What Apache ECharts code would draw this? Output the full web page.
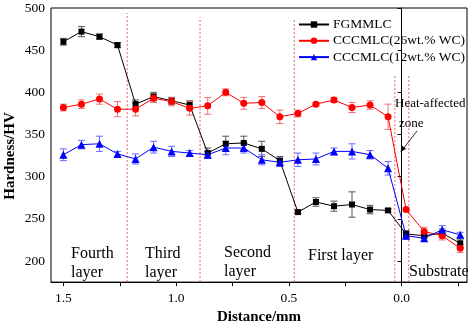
<!DOCTYPE html>
<html>
<head>
<meta charset="utf-8">
<script src="https://cdn.jsdelivr.net/npm/echarts@6/dist/echarts.min.js"></script>
<style>html,body{margin:0;padding:0;background:#fff}#c{width:474px;height:330px}</style>
</head>
<body>
<div id="c"></div>
<script>
const distance = [1.5, 1.42, 1.34, 1.26, 1.18, 1.10, 1.02, 0.94, 0.86, 0.78, 0.70, 0.62, 0.54, 0.46, 0.38, 0.30, 0.22, 0.14, 0.06, -0.02, -0.10, -0.18, -0.26];
const fgmmlc = [460, 472, 466, 456, 386, 395, 390, 385, 328, 339, 340, 333, 319, 258, 270, 265, 267, 261, 260, 232, 230, 233, 221];
const fgmmlcErr = [4, 6, 3, 3, 5, 5, 4, 5, 6, 9, 8, 9, 5, 2, 5, 6, 15, 5, 2, 4, 3, 5, 5];
const ccc26 = [382, 386, 392, 380, 380, 393, 389, 381, 384, 400, 387, 388, 371, 375, 386, 391, 382, 385, 371, 261, 235, 230, 215];
const ccc26Err = [4, 5, 6, 9, 8, 5, 5, 8, 10, 4, 7, 7, 8, 4, 2, 3, 6, 5, 15, 2, 5, 5, 5];
const ccc12 = [326, 338, 339, 327, 321, 335, 330, 328, 326, 334, 334, 320, 317, 320, 321, 330, 330, 326, 310, 230, 227, 237, 231];
const ccc12Err = [7, 5, 9, 3, 6, 7, 6, 3, 4, 8, 6, 6, 5, 8, 7, 4, 9, 5, 8, 4, 4, 5, 3];
const seriesNames = ['FGMMLC', 'CCCMLC(26wt.% WC)', 'CCCMLC(12wt.% WC)'];
const xLabels = [1.5, 1.0, 0.5, 0.0];
const xTicks = [1.5, 1.25, 1.0, 0.75, 0.5, 0.25, 0.0, -0.25];
const yLabels = [200, 250, 300, 350, 400, 450, 500];
// boundary lines: [distance, top hardness]
const dividers = [[1.217, 494], [0.894, 489], [0.476, 486], [0.03, 421], [-0.032, 421]];

const FONT = "'Liberation Serif','Times New Roman',serif";
const chart = echarts.init(document.getElementById('c'), null, {renderer: 'canvas'});

function errSeries(vals, errs, color) {
  return {
    type: 'custom',
    silent: true,
    z: 1,
    data: distance.map((d, i) => [d, vals[i] - errs[i], vals[i] + errs[i]]),
    encode: {x: 0, y: [1, 2]},
    renderItem: function (params, api) {
      const x = api.value(0);
      const p1 = api.coord([x, api.value(1)]);
      const p2 = api.coord([x, api.value(2)]);
      const w = 3.5;
      const st = {stroke: color, lineWidth: 1};
      return {type: 'group', children: [
        {type: 'line', shape: {x1: p1[0], y1: p1[1], x2: p2[0], y2: p2[1]}, style: st},
        {type: 'line', shape: {x1: p1[0] - w, y1: p1[1], x2: p1[0] + w, y2: p1[1]}, style: st},
        {type: 'line', shape: {x1: p2[0] - w, y1: p2[1], x2: p2[0] + w, y2: p2[1]}, style: st}
      ]};
    }
  };
}

function lineSeries(name, vals, color, symbol, size) {
  return {
    name: name, type: 'line', z: 3,
    data: distance.map((d, i) => [d, vals[i]]),
    symbol: symbol, symbolSize: size,
    lineStyle: {color: color, width: 1},
    itemStyle: {color: color},
    emphasis: {disabled: true}
  };
}

const txt = (x, y, text, size, lh) => ({
  type: 'text', x: x, y: y, z: 10,
  style: {text: text, font: size + 'px ' + FONT, fill: '#000', lineHeight: lh, textVerticalAlign: 'top'}
});

chart.setOption({
  animation: false,
  backgroundColor: '#fff',
  grid: {left: 51, right: 7, top: 8, bottom: 44, show: true, borderColor: '#000', borderWidth: 1, backgroundColor: 'transparent'},
  legend: {
    orient: 'vertical', left: 298, top: 17.5, padding: 0, itemWidth: 30, itemHeight: 8, itemGap: 2.3,
    data: seriesNames,
    textStyle: {fontFamily: FONT, fontSize: 13.5, color: '#000', lineHeight: 14, padding: [0, 0, 0, -1]}
  },
  xAxis: {
    type: 'value', inverse: true, min: -0.29, max: 1.555,
    name: 'Distance/mm', nameLocation: 'middle', nameGap: 23,
    nameTextStyle: {fontFamily: FONT, fontSize: 15, fontWeight: 'bold', color: '#000'},
    axisLine: {lineStyle: {color: '#000', width: 1}},
    axisTick: {show: true, length: 4, inside: false, customValues: xTicks, lineStyle: {color: '#000'}},
    axisLabel: {customValues: xLabels, formatter: v => v.toFixed(1), margin: 9, fontFamily: FONT, fontSize: 13.5, color: '#000'},
    splitLine: {show: false}
  },
  yAxis: {
    type: 'value', min: 175, max: 500,
    axisLine: {show: true, lineStyle: {color: '#000', width: 1}},
    axisTick: {show: true, length: 4, customValues: yLabels, lineStyle: {color: '#000'}},
    axisLabel: {customValues: yLabels, margin: 6, fontFamily: FONT, fontSize: 13.5, color: '#000'},
    splitLine: {show: false}
  },
  series: [
    {
      type: 'custom', silent: true, z: 0,
      data: dividers,
      encode: {x: 0, y: 1},
      renderItem: function (params, api) {
        const x = api.value(0);
        const p1 = api.coord([x, 175]);
        const p2 = api.coord([x, api.value(1)]);
        return {type: 'line', shape: {x1: p1[0], y1: p1[1], x2: p2[0], y2: p2[1]},
          style: {stroke: '#f06060', lineWidth: 1, lineDash: [2, 2]}};
      }
    },
    errSeries(fgmmlc, fgmmlcErr, '#555555'),
    errSeries(ccc26, ccc26Err, '#f07070'),
    errSeries(ccc12, ccc12Err, '#6a6aff'),
    lineSeries(seriesNames[0], fgmmlc, '#000000', 'rect', 6),
    lineSeries(seriesNames[1], ccc26, '#ff0000', 'circle', 7),
    lineSeries(seriesNames[2], ccc12, '#0000ff', 'triangle', 8)
  ],
  graphic: [
    {type: 'text', x: 10.5, y: 156, rotation: Math.PI / 2, z: 10,
     style: {text: 'Hardness/HV', font: 'bold 15px ' + FONT, fill: '#000', textAlign: 'center', textVerticalAlign: 'middle'}},
    txt(71, 244.5, 'Fourth\nlayer', 16, 19),
    txt(145, 244.5, 'Third\nlayer', 16, 19),
    txt(224, 243.5, 'Second\nlayer', 16, 19),
    txt(308, 246.5, 'First layer', 16, 19),
    txt(409, 262.5, 'Substrate', 16, 19),
    txt(395, 96, 'Heat-affected', 13, 16),
    txt(399, 116, 'zone', 13, 16),
    {type: 'line', z: 10, shape: {x1: 417, y1: 131, x2: 403, y2: 149}, style: {stroke: '#000', lineWidth: 0.8}},
    {type: 'polygon', z: 10, shape: {points: [[400.5, 152], [406.1, 148.7], [402.1, 145.7]]}, style: {fill: '#000'}}
  ]
});
</script>
</body>
</html>
